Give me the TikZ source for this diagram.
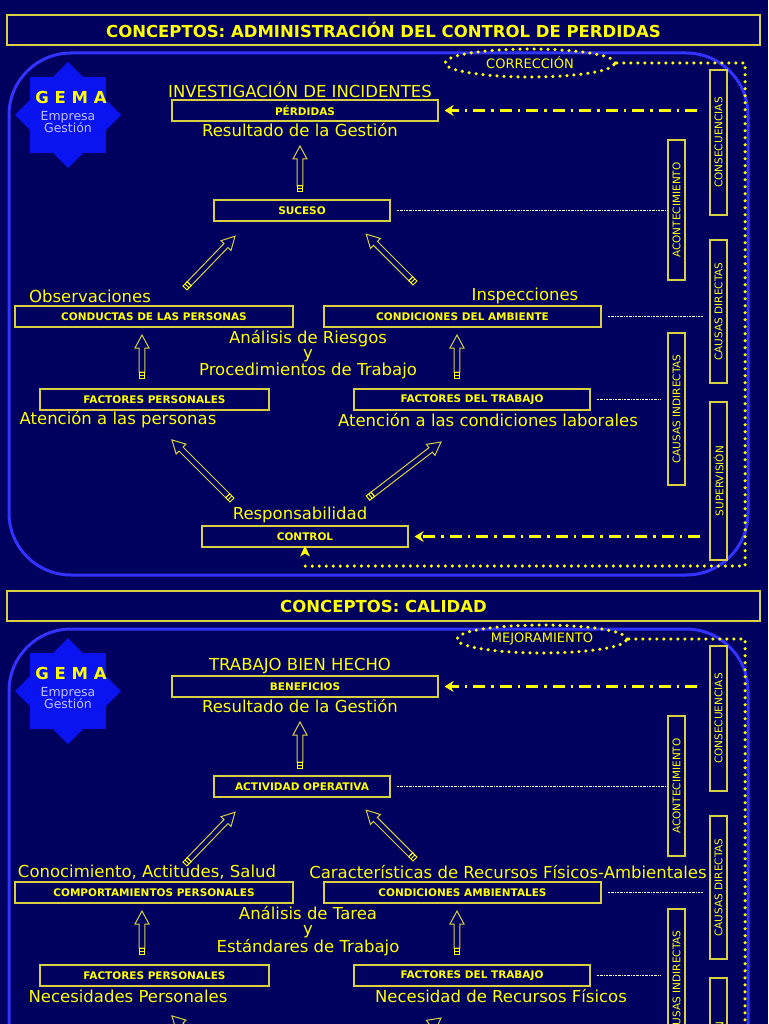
\documentclass[tikz,border=0pt]{standalone}
\usepackage{fontspec}
\setmainfont{DejaVu Sans}
\usetikzlibrary{arrows.meta,shapes.geometric}
\definecolor{bg}{HTML}{00005F}
\definecolor{ylw}{HTML}{FFFF00}
\definecolor{bord}{HTML}{D8D040}
\definecolor{frame}{HTML}{3333FF}
\definecolor{star}{HTML}{0A14F0}
\begin{document}
\begin{tikzpicture}[x=1pt,y=1pt,
  box/.style={draw=bord,line width=1.2pt,minimum height=21pt,inner sep=0pt,text=ylw,font=\fontsize{10.5}{11}\selectfont\bfseries},
  vbox/.style={draw=bord,line width=1.2pt,minimum height=17pt,inner sep=0pt,text=ylw,rotate=90,font=\fontsize{10.5}{11}\selectfont},
  lbl/.style={text=ylw,inner sep=0pt,font=\fontsize{16.5}{15}\selectfont},
  title/.style={draw=bord,line width=1.2pt,minimum width=753pt,minimum height=30pt,inner sep=0pt,text=ylw,font=\fontsize{16.5}{17}\selectfont\bfseries},
  dotl/.style={ylw,line width=3.5pt,dash pattern=on 0pt off 7pt,line cap=round},
  ell/.style={ellipse,draw,dotl,minimum width=170pt,minimum height=28pt,inner sep=0pt,text=ylw,font=\fontsize{13}{13}\selectfont},
  thin/.style={white!80!ylw,line width=0.6pt,dash pattern=on 2pt off 1pt on 0.5pt off 1pt},
  dda/.style={ylw,line width=2.5pt,dash pattern=on 12pt off 6pt on 2.5pt off 6pt,-{Stealth[length=9pt,width=11pt]}},
  pics/harrow/.style={code={
    \draw[bord,line width=1pt,fill=bg] (6,-2.8) -- (#1-13,-2.8) -- (#1-13,-7) -- (#1,0) -- (#1-13,7) -- (#1-13,2.8) -- (6,2.8) -- cycle;
    \draw[ylw,line width=1pt] (0,-2.8) rectangle (3,2.8) (3,-2.8) rectangle (6,2.8);
  }}]
\useasboundingbox (0,-1024) rectangle (768,0);
\fill[bg] (0,-1024) rectangle (768,0);
\begin{scope}
\clip (0,-1024) rectangle (768,0);
\foreach \off/\pan in {0/1,576/2}{
\begin{scope}[yshift=-\off pt]
  \draw[frame,line width=3pt,rounded corners=62pt] (9,-53) rectangle (748,-575);
  \fill[star] (30,-77) rectangle (106,-153);
  \fill[star] (68,-62) -- (121,-115) -- (68,-168) -- (15,-115) -- cycle;
  \node[text=ylw,font=\fontsize{16.5}{17}\selectfont\bfseries] (gema\pan) at (71,-97) {G E M A};
  \node[text=white!75!blue,font=\fontsize{12.5}{13}\selectfont,align=center] at (68,-122) {Empresa\\[-1pt]Gestión};
  \pic[rotate=90] at (300,-192) {harrow=46};
  \pic[rotate=46] at (185,-288) {harrow=72};
  \pic[rotate=135] at (415,-283) {harrow=69};
  \pic[rotate=90] at (142,-378) {harrow=43};
  \pic[rotate=90] at (457,-378) {harrow=43};
  \pic[rotate=135] at (232,-500) {harrow=85};
  \pic[rotate=37.5] at (368,-498) {harrow=92};
  \node[title] (t\pan) at (383.5,-30) {\ifnum\pan=1 CONCEPTOS: ADMINISTRACIÓN DEL CONTROL DE PERDIDAS\else CONCEPTOS: CALIDAD\fi};
  \node[box,minimum width=266pt] (top\pan) at (305,-110.5) {\ifnum\pan=1 PÉRDIDAS\else BENEFICIOS\fi};
  \node[box,minimum width=176pt] (mid\pan) at (302,-210.5) {\ifnum\pan=1 SUCESO\else ACTIVIDAD OPERATIVA\fi};
  \node[box,minimum width=278pt] (cl\pan) at (154,-316.5) {\ifnum\pan=1 CONDUCTAS DE LAS PERSONAS\else COMPORTAMIENTOS PERSONALES\fi};
  \node[box,minimum width=277pt] (cr\pan) at (462.5,-316.5) {\ifnum\pan=1 CONDICIONES DEL AMBIENTE\else CONDICIONES AMBIENTALES\fi};
  \node[box,minimum width=229pt] (fl\pan) at (154.5,-399.5) {FACTORES PERSONALES};
  \node[box,minimum width=236pt] (fr\pan) at (472,-399.5) {FACTORES DEL TRABAJO};
  \node[box,minimum width=206pt] (ctl\pan) at (305,-536.5) {CONTROL};
  \node[lbl] at (300,-90) {\ifnum\pan=1 INVESTIGACIÓN DE INCIDENTES\else TRABAJO BIEN HECHO\fi};
  \node[lbl] at (300,-130) {Resultado de la Gestión};
  \node[lbl] at (\ifnum\pan=1 90\else 147\fi,-296) {\ifnum\pan=1 Observaciones\else Conocimiento, Actitudes, Salud\fi};
  \node[lbl] at (\ifnum\pan=1 525\else 508\fi,-296) {\ifnum\pan=1 Inspecciones\else Características de Recursos Físicos-Ambientales\fi};
  \node[lbl,align=center] at (308,-355) {\ifnum\pan=1 Análisis de Riesgos\\y\\Procedimientos de Trabajo\else Análisis de Tarea\\y\\Estándares de Trabajo\fi};
  \node[lbl] at (\ifnum\pan=1 118\else 128\fi,-420) {\ifnum\pan=1 Atención a las personas\else Necesidades Personales\fi};
  \node[lbl] at (\ifnum\pan=1 488\else 501\fi,-420) {\ifnum\pan=1 Atención a las condiciones laborales\else Necesidad de Recursos Físicos\fi};
  \ifnum\pan=1 \node[lbl] at (300,-515) {Responsabilidad};\fi
  \node[vbox,minimum width=145pt] (v1\pan) at (718.5,-142.5) {CONSECUENCIAS};
  \node[vbox,minimum width=143pt] (v2\pan) at (718.5,-311.5) {CAUSAS DIRECTAS};
  \node[vbox,minimum width=158pt] (v3\pan) at (718.5,-481) {SUPERVISIÓN};
  \node[vbox,minimum width=140pt] (v4\pan) at (676.5,-210) {ACONTECIMIENTO};
  \node[vbox,minimum width=152pt] (v5\pan) at (676.5,-409) {CAUSAS INDIRECTAS};
  \node[ell] (e\pan) at (\ifnum\pan=1 530\else 542\fi,-63) {\ifnum\pan=1 CORRECCIÓN\else MEJORAMIENTO\fi};
  \coordinate (a\pan) at (697,-110.5);
  \coordinate (b\pan) at (700,-536.5);
  \coordinate (c\pan) at (745,-63);
  \coordinate (d\pan) at (745,-566);
  \coordinate (f\pan) at (302,-566);
  \draw[dda,shorten >=6pt] (b\pan) -- (ctl\pan.east);
  \draw[dda,shorten >=6pt] (a\pan) -- (top\pan.east);
  \draw[dotl] (e\pan.east) -- (c\pan) -- (d\pan) -- (f\pan);
  \fill[ylw] (ctl\pan.south) ++(-5,-9) -- ++(5,11) -- ++(5,-11) -- ++(-5,3) -- cycle;
  \draw[thin] ([xshift=6pt]mid\pan.east) -- (v4\pan.north|-mid\pan.east);
  \draw[thin] ([xshift=6pt]cr\pan.east) -- ([xshift=-6pt]v2\pan.north|-cr\pan.east);
  \draw[thin] ([xshift=6pt]fr\pan.east) -- ([xshift=-6pt]v5\pan.north|-fr\pan.east);
\end{scope}}
\end{scope}
\end{tikzpicture}
\end{document}
